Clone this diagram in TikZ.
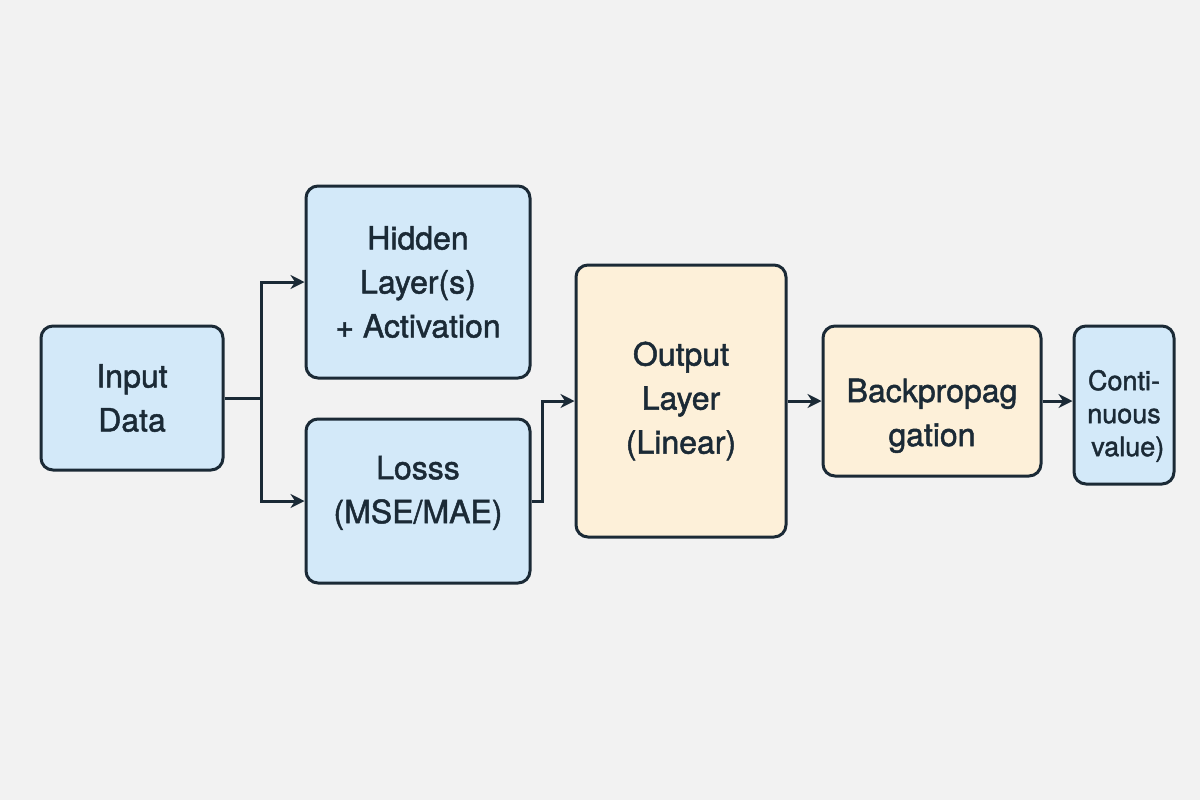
\documentclass[tikz,border=0pt]{standalone}
\usepackage{fontspec}
\setmainfont{TeX Gyre Heros}[FakeBold=1.5]
\usetikzlibrary{arrows.meta}
\definecolor{bgc}{HTML}{F2F2F2}
\definecolor{inkc}{HTML}{1B2A36}
\definecolor{bluec}{HTML}{D3E9F9}
\definecolor{sandc}{HTML}{FDF0D9}

\begin{document}
\begin{tikzpicture}[x=0.5pt,y=-0.5pt,
	box/.style={draw=inkc, line width=1.5pt, rounded corners=6pt, align=center,
		text=inkc, inner sep=0pt, font=\fontsize{16}{22}\selectfont},
	bluebox/.style={box, fill=bluec},
	sandbox/.style={box, fill=sandc},
	flow/.style={draw=inkc, line width=1.5pt, -{Stealth[length=7pt,width=7pt]}}]
			\fill[bgc] (0,0) rectangle (1200,800);
			\useasboundingbox (0,0) rectangle (1200,800);
			% boxes
			\node[bluebox, minimum width=91pt, minimum height=72pt] (in) at (132,398) {Input\\Data};
			\node[bluebox, minimum width=112pt, minimum height=96pt] (hid) at (418,282) {Hidden\\Layer(s)\\+ Activation};
			\node[bluebox, minimum width=112pt, minimum height=82pt, text depth=11.5pt] (loss) at (418,501) {Losss\\(MSE/MAE)};
			\node[sandbox, minimum width=105pt, minimum height=136pt] (out) at (681,401) {Output\\Layer\\(Linear)};
			\node[sandbox, minimum width=109pt, minimum height=75pt, text height=48.5pt] (bp) at (932,401) {Backpropag\\gation};
			\node[bluebox, minimum width=50pt, minimum height=79pt, text height=54pt,
				font=\fontsize{13.5}{16.5}\selectfont] (cont) at (1124,405) {Conti-\\nuous\\\ value)};
			% connectors
			\coordinate (split) at (261,398);
			\draw[draw=inkc, line width=1.5pt] (in.east) -- (split);
			\draw[flow] (split) |- (hid.west);
			\draw[flow] (split) |- (loss.west);
			\draw[flow] (loss.east) -- ++(11,0) |- (out.west);
			\draw[flow] (out.east) -- (bp.west);
			\draw[flow] (bp.east) -- (bp.east -| cont.west);
		\end{tikzpicture}
\end{document}
